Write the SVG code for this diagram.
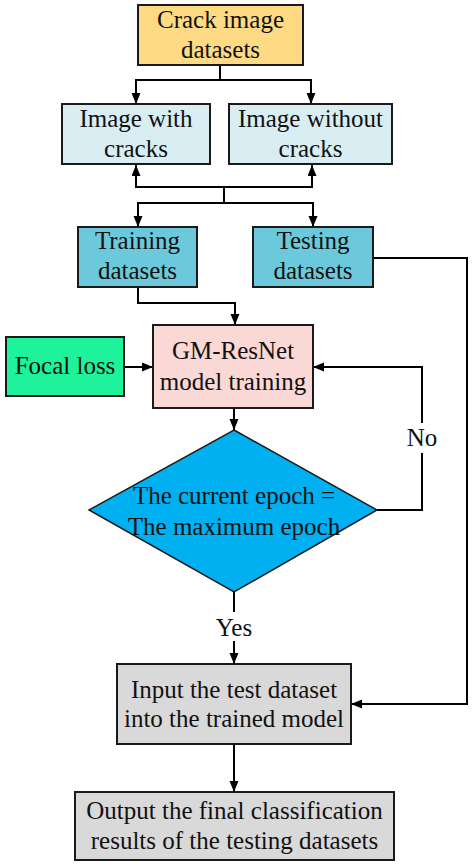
<svg xmlns="http://www.w3.org/2000/svg" width="474" height="866" viewBox="0 0 474 866">
<defs>
<marker id="arr" markerUnits="userSpaceOnUse" markerWidth="12" markerHeight="10" refX="11" refY="4.5" orient="auto">
<path d="M0,0 L11,4.5 L0,9 z" fill="#000"/>
</marker>
<style>
.box{stroke:#1a1a1a;stroke-width:2}
.t{font-family:"Liberation Serif","Times New Roman",serif;font-size:25px;fill:#111;text-anchor:middle}
.c{fill:none;stroke:#000;stroke-width:2}
.a{marker-end:url(#arr)}
</style>
</defs>
<rect width="474" height="866" fill="#fff"/>
<g id="connectors">
<path class="c a" d="M220,65 V80 H136 V104"/>
<path class="c a" d="M220,80 H311 V104"/>
<path class="c a" d="M224,203 V187 H136 V165"/>
<path class="c a" d="M224,187 H312 V165"/>
<path class="c a" d="M224,187 V203 H138 V227"/>
<path class="c a" d="M224,203 H313 V227"/>
<path class="c a" d="M138,287 V303 H235 V325"/>
<path class="c a" d="M124,367 H153"/>
<path class="c a" d="M234,408 V430"/>
<path class="c" d="M377,510 H422 V453"/>
<path class="c a" d="M422,423 V367 H313"/>
<path class="c" d="M234,592 V612"/>
<path class="c a" d="M234,641 V664"/>
<path class="c a" d="M373,258 H467 V704 H351"/>
<path class="c a" d="M234,744 V792"/>
<text class="t" x="422" y="446">No</text>
<text class="t" x="234" y="636">Yes</text>
</g>
<g id="crack">
<rect class="box" x="138" y="5" width="165" height="60" fill="#FFDA85"/>
<text class="t" x="220.5" y="28">Crack image</text>
<text class="t" x="220.5" y="58">datasets</text>
</g>
<g id="with">
<rect class="box" x="62" y="104" width="148" height="60" fill="#D8EEF3"/>
<text class="t" x="136" y="127">Image with</text>
<text class="t" x="136" y="157">cracks</text>
</g>
<g id="without">
<rect class="box" x="229" y="104" width="163" height="60" fill="#D8EEF3"/>
<text class="t" x="310.5" y="127">Image without</text>
<text class="t" x="310.5" y="157">cracks</text>
</g>
<g id="training">
<rect class="box" x="78" y="227" width="119" height="60" fill="#6CC9DB"/>
<text class="t" x="137.5" y="249">Training</text>
<text class="t" x="137.5" y="279">datasets</text>
</g>
<g id="testing">
<rect class="box" x="253" y="227" width="120" height="60" fill="#6CC9DB"/>
<text class="t" x="313" y="249">Testing</text>
<text class="t" x="313" y="279">datasets</text>
</g>
<g id="focal">
<rect class="box" x="6" y="337" width="118" height="59" fill="#1EF39B"/>
<text class="t" x="65" y="374">Focal loss</text>
</g>
<g id="gm">
<rect class="box" x="153" y="325" width="160" height="83" fill="#F9D8D5"/>
<text class="t" x="233" y="359">GM-ResNet</text>
<text class="t" x="233" y="390">model training</text>
</g>
<g id="decision">
<polygon points="234,430 377,510 234,592 89,510" fill="#00B0F0" stroke="#1a1a1a" stroke-width="1.5"/>
<text class="t" x="234" y="504">The current epoch =</text>
<text class="t" x="234" y="535">The maximum epoch</text>
</g>
<g id="input">
<rect class="box" x="117" y="664" width="234" height="80" fill="#D9D9D9"/>
<text class="t" x="234" y="698">Input the test dataset</text>
<text class="t" x="234" y="727">into the trained model</text>
</g>
<g id="output">
<rect class="box" x="75" y="792" width="319" height="68" fill="#D9D9D9"/>
<text class="t" x="234.5" y="819">Output the final classification</text>
<text class="t" x="234.5" y="849">results of the testing datasets</text>
</g>
</svg>
